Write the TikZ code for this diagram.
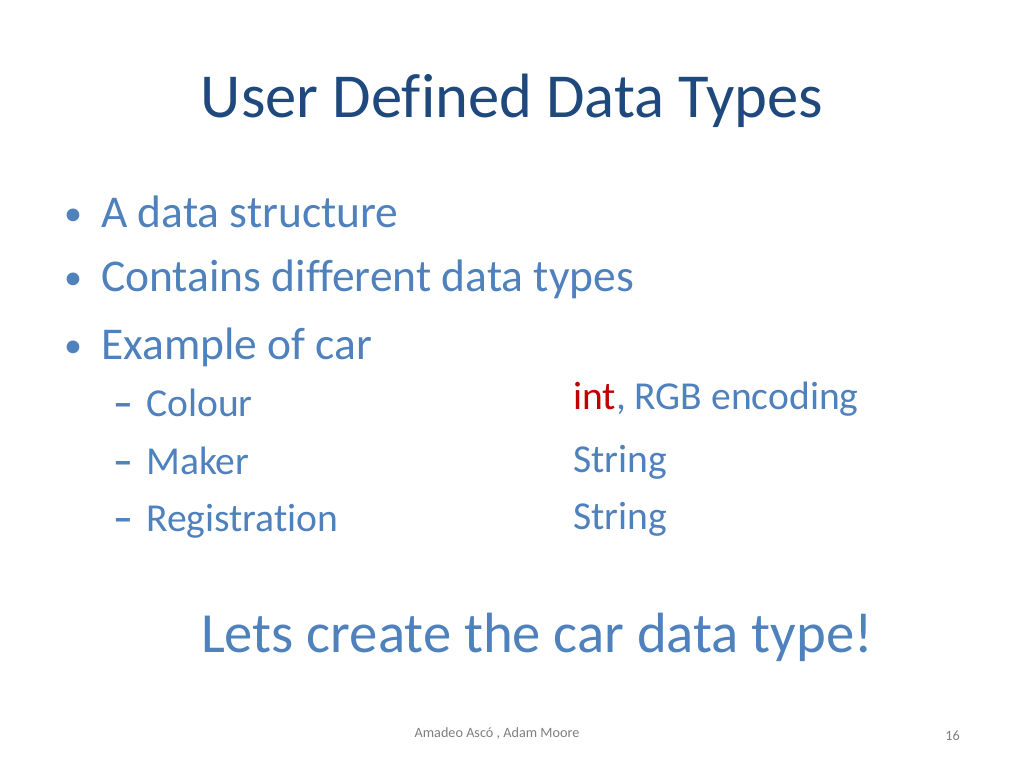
\documentclass[tikz,border=0pt]{standalone}
\usepackage{fontspec}
\setmainfont[Ligatures={NoCommon}]{Carlito}
\definecolor{ttl}{HTML}{1F497D}
\definecolor{bdy}{HTML}{4F81BD}
\definecolor{rd}{HTML}{C00000}
\definecolor{ft}{HTML}{7F7F7F}
\begin{document}
\begin{tikzpicture}[x=1pt,y=1pt,
  lvl1/.style={anchor=base west,inner sep=0,text=bdy,font=\fontsize{45.5}{50}\selectfont},
  lvl2/.style={anchor=base west,inner sep=0,text=bdy,font=\fontsize{39.6}{44}\selectfont},
  foot/.style={inner sep=0,text=ft,font=\fontsize{14.2}{16}\selectfont}]
\useasboundingbox (0,0) rectangle (1024,768);
\fill[white] (0,0) rectangle (1024,768);
\node[anchor=base,inner sep=0,text=ttl,font=\fontsize{62.6}{68}\selectfont] (title) at (512,768-118) {User Defined Data Types};
\node[lvl1,font=\fontsize{36}{40}\selectfont] (b1) at (64,768-226) {•};
\node[lvl1] (t1) at (101,768-228) {A data structure};
\node[lvl1,font=\fontsize{36}{40}\selectfont] (b2) at (64,768-290) {•};
\node[lvl1] (t2) at (101,768-292) {Contains different data types};
\node[lvl1,font=\fontsize{36}{40}\selectfont] (b3) at (64,768-358) {•};
\node[lvl1] (t3) at (101,768-360) {Example of car};
\node[lvl2,font=\bfseries\fontsize{39.6}{44}\selectfont] (d1) at (113,768-417) {–};
\node[lvl2] (s1) at (146,768-417) {Colour};
\node[lvl2,font=\bfseries\fontsize{39.6}{44}\selectfont] (d2) at (113,768-475) {–};
\node[lvl2] (s2) at (146,768-475) {Maker};
\node[lvl2,font=\bfseries\fontsize{39.6}{44}\selectfont] (d3) at (113,768-532) {–};
\node[lvl2] (s3) at (146,768-532) {Registration};
\node[lvl2] (r1) at (573,768-410) {\textcolor{rd}{int}, RGB encoding};
\node[lvl2] (r2) at (573,768-473) {String};
\node[lvl2] (r3) at (573,768-530) {String};
\node[anchor=base,inner sep=0,text=bdy,font=\fontsize{56.7}{62}\selectfont] (lets) at (537,768-652) {Lets create the car data type!};
\node[foot,anchor=base] (author) at (497,768-737) {Amadeo Ascó , Adam Moore};
\node[foot,anchor=base east] (page) at (960,768-740) {16};
\end{tikzpicture}
\end{document}
